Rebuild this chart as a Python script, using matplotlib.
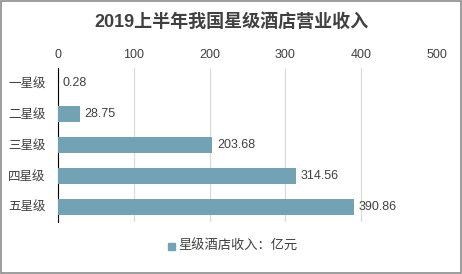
import matplotlib.pyplot as plt
from matplotlib.patches import Rectangle

plt.rcParams['font.family'] = ['Liberation Sans', 'Noto Sans CJK SC', 'DejaVu Sans']

categories = ['一星级', '二星级', '三星级', '四星级', '五星级']
revenue = [0.28, 28.75, 203.68, 314.56, 390.86]
xticks = [0, 100, 200, 300, 400, 500]

bar_color = '#73A2B5'
text_color = '#404040'

fig = plt.figure(figsize=(4.62, 2.74), dpi=100)
ax = fig.add_axes([58 / 462, 1 - 222 / 274, 379 / 462, 154 / 274])

ypos = list(range(len(categories)))
ax.barh(ypos, revenue, height=0.52, color=bar_color, zorder=3)
for y, v in zip(ypos, revenue):
    ax.text(v + 6, y, f'{v:.2f}', va='center', ha='left', fontsize=9, color=text_color)

ax.set_xlim(0, 500)
ax.set_ylim(len(categories) - 0.5, -0.5)
ax.set_yticks(ypos)
ax.set_yticklabels(categories, fontsize=9, color=text_color)
ax.set_xticks(xticks)
ax.xaxis.tick_top()
ax.tick_params(axis='x', length=0, labelsize=9, labelcolor=text_color, pad=5)
ax.tick_params(axis='y', length=0, pad=9)
ax.grid(axis='x', color='#d9d9d9', linewidth=0.8, zorder=0)
for side in ['top', 'right', 'bottom']:
    ax.spines[side].set_visible(False)
ax.spines['left'].set_color('#000000')
ax.spines['left'].set_linewidth(0.8)

fig.text(0.5, 1 - 22 / 274, '2019上半年我国星级酒店营业收入', ha='center', va='center',
         fontsize=13, fontweight='bold', color=text_color)

# legend
fig.patches.append(Rectangle((168 / 462, 1 - 250 / 274), 7 / 462, 7 / 274,
                             transform=fig.transFigure, color=bar_color))
fig.text(178 / 462, 1 - 246 / 274, '星级酒店收入：亿元', ha='left', va='center',
         fontsize=9.5, color=text_color)

# outer border
fig.patches.append(Rectangle((0.002, 0.003), 0.995, 0.994, transform=fig.transFigure,
                             fill=False, edgecolor='#8c8c8c', linewidth=1.2))

fig.savefig('out.png', dpi=100)
